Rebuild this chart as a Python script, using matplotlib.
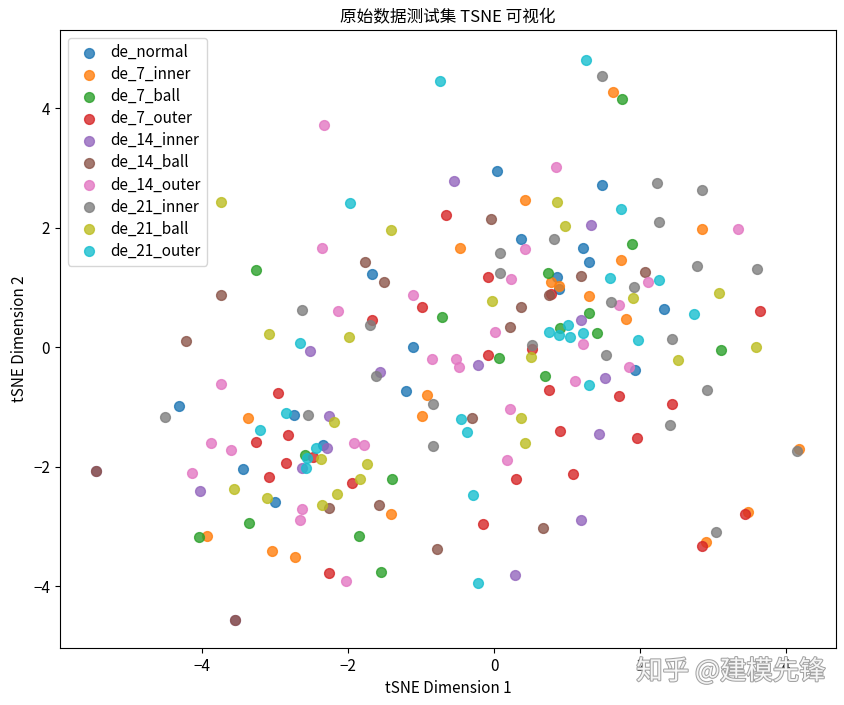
import numpy as np
import matplotlib
matplotlib.use('Agg')
import matplotlib.pyplot as plt
import matplotlib.patheffects as pe

plt.rcParams['font.family'] = ['Noto Sans CJK SC', 'DejaVu Sans']
plt.rcParams['axes.unicode_minus'] = True

# Clases del conjunto de prueba
clases = ['de_normal', 'de_7_inner', 'de_7_ball', 'de_7_outer', 'de_14_inner',
          'de_14_ball', 'de_14_outer', 'de_21_inner', 'de_21_ball', 'de_21_outer']

# Coordenadas t-SNE (x, y)
de_normal = [(0.04, 2.94), (1.48, 2.71), (0.36, 1.81), (1.22, 1.66), (-1.68, 1.22),
             (0.86, 1.17), (0.88, 0.97), (-1.11, 0.00), (1.30, 1.42), (2.32, 0.64),
             (-4.32, -0.99), (-2.74, -1.14), (-2.34, -1.64), (-3.44, -2.04),
             (-3.00, -2.59), (-1.21, -0.74), (1.93, -0.38)]
de_7_inner = [(1.62, 4.26), (0.42, 2.47), (-0.47, 1.66), (0.77, 1.09), (0.88, 1.02),
              (2.84, 1.97), (1.73, 1.45), (1.30, 0.85), (1.81, 0.47), (-3.38, -1.19),
              (-0.92, -0.80), (-0.99, -1.15), (-3.93, -3.16), (-3.05, -3.41),
              (-2.73, -3.51), (-1.42, -2.79), (4.18, -1.70), (3.48, -2.76), (2.90, -3.26)]
de_7_ball = [(1.75, 4.15), (-3.26, 1.29), (0.74, 1.24), (-0.71, 0.50), (0.90, 0.32),
             (1.89, 1.72), (1.30, 0.57), (1.41, 0.23), (0.07, -0.18), (0.70, -0.48),
             (3.11, -0.05), (-2.59, -1.81), (-1.40, -2.21), (-3.36, -2.94),
             (-4.04, -3.18), (-1.85, -3.16), (-1.55, -3.76)]
de_7_outer = [(-0.66, 2.21), (-0.08, 1.17), (0.78, 0.89), (-0.99, 0.67), (-1.68, 0.45),
              (3.64, 0.60), (-0.08, -0.13), (0.51, -0.03), (0.75, -0.72), (0.90, -1.40),
              (0.30, -2.21), (1.08, -2.12), (1.71, -0.82), (2.44, -0.95), (1.95, -1.52),
              (3.44, -2.79), (2.84, -3.33), (-2.96, -0.77), (-3.27, -1.59),
              (-2.82, -1.47), (-3.08, -2.17), (-2.49, -1.84), (-2.86, -1.94),
              (-1.95, -2.27), (-2.26, -3.78), (-0.16, -2.96)]
de_14_inner = [(-0.55, 2.78), (1.19, 0.45), (1.32, 2.04), (-2.52, -0.07), (-2.27, -1.15),
               (-2.29, -1.69), (-2.63, -2.02), (-4.03, -2.41), (-5.45, -2.07),
               (-1.56, -0.42), (-0.22, -0.30), (1.52, -0.52), (1.44, -1.45),
               (1.19, -2.89), (0.29, -3.81), (-3.55, -4.57)]
de_14_ball = [(-3.74, 0.87), (-4.22, 0.10), (-0.04, 2.14), (-1.77, 1.42), (1.19, 1.19),
              (-1.51, 1.09), (0.75, 0.87), (0.37, 0.67), (0.21, 0.33), (2.07, 1.25),
              (-0.30, -1.19), (-2.26, -2.69), (-1.58, -2.64), (-0.79, -3.38),
              (0.67, -3.03), (-3.55, -4.57), (-5.45, -2.07)]
de_14_outer = [(-2.33, 3.71), (0.85, 3.01), (-2.36, 1.66), (0.42, 1.64), (0.23, 1.14),
               (-1.12, 0.87), (-2.14, 0.60), (0.01, 0.25), (3.34, 1.97), (2.10, 1.09),
               (1.71, 0.70), (1.21, 0.05), (-3.74, -0.62), (-3.88, -1.61), (-3.60, -1.72),
               (-4.14, -2.11), (-2.63, -2.71), (-2.66, -2.89), (-0.86, -0.20),
               (-0.53, -0.20), (-0.49, -0.33), (1.10, -0.57), (0.22, -1.04),
               (0.18, -1.89), (1.84, -0.33), (-1.92, -1.61), (-1.79, -1.64), (-2.03, -3.91)]
de_21_inner = [(1.48, 4.53), (2.23, 2.74), (2.85, 2.63), (0.82, 1.81), (0.08, 1.57),
               (0.08, 1.24), (2.25, 2.09), (2.78, 1.35), (3.60, 1.30), (1.92, 1.00),
               (1.60, 0.75), (2.44, 0.13), (-2.63, 0.62), (-1.70, 0.37), (0.51, 0.03),
               (-4.51, -1.17), (-2.55, -1.14), (-1.62, -0.48), (-0.84, -0.95),
               (-0.84, -1.66), (1.53, -0.13), (2.92, -0.72), (2.41, -1.30),
               (4.15, -1.74), (3.04, -3.09)]
de_21_ball = [(-3.74, 2.42), (0.86, 2.42), (0.97, 2.02), (-1.41, 1.96), (-0.03, 0.77),
              (-3.08, 0.22), (-1.99, 0.17), (1.90, 0.82), (3.08, 0.90), (3.58, 0.00),
              (2.51, -0.22), (0.50, -0.17), (-2.19, -1.25), (-2.37, -1.87),
              (-1.75, -1.96), (-1.84, -2.21), (-2.16, -2.46), (-3.56, -2.37),
              (-3.12, -2.53), (-2.36, -2.64), (0.36, -1.19), (0.42, -1.61)]
de_21_outer = [(-0.75, 4.46), (1.26, 4.80), (-1.97, 2.41), (1.74, 2.31), (1.59, 1.15),
               (2.26, 1.12), (2.73, 0.55), (0.75, 0.25), (1.01, 0.37), (0.89, 0.20),
               (1.04, 0.17), (1.22, 0.23), (1.97, 0.12), (-2.66, 0.07), (1.30, -0.63),
               (-2.85, -1.10), (-3.21, -1.39), (-2.44, -1.69), (-2.56, -1.86),
               (-2.58, -2.02), (-0.45, -1.20), (-0.37, -1.42), (-0.29, -2.47),
               (-0.22, -3.95)]

datos = [de_normal, de_7_inner, de_7_ball, de_7_outer, de_14_inner,
         de_14_ball, de_14_outer, de_21_inner, de_21_ball, de_21_outer]

fig = plt.figure(figsize=(8.44, 7.05), dpi=100)
ax = fig.add_axes([0.071, 0.081, 0.9195, 0.876])

for nombre, puntos in zip(clases, datos):
    p = np.array(puntos)
    ax.scatter(p[:, 0], p[:, 1], s=50, alpha=0.8, label=nombre)

ax.set_xlim(-5.95, 4.68)
ax.set_ylim(-5.03, 5.3)
ax.set_xticks([-4, -2, 0, 2, 4])
ax.set_yticks([-4, -2, 0, 2, 4])
ax.set_title('原始数据测试集 TSNE 可视化', fontsize=12)
ax.set_xlabel('tSNE Dimension 1', fontsize=11)
ax.set_ylabel('tSNE Dimension 2', fontsize=11)
ax.tick_params(labelsize=11)
ax.legend(loc='upper left', fontsize=11, handletextpad=0.4, labelspacing=0.33,
          borderaxespad=0.5)

# marca de agua
fig.text(0.978, 0.028, '知乎 @建模先锋', ha='right', va='bottom', fontsize=19,
         color='white', alpha=0.9,
         path_effects=[pe.withStroke(linewidth=1.5, foreground='#999999')])

fig.savefig('out.png', dpi=100)
